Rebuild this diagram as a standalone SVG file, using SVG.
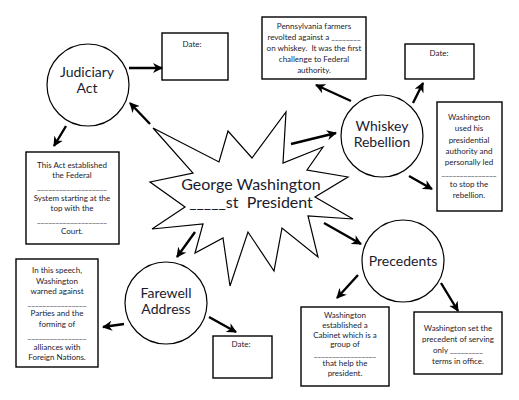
<svg xmlns="http://www.w3.org/2000/svg" width="519" height="400" viewBox="0 0 519 400">
<defs>
<style>
.bg{fill:#fff}
.circ{fill:#fff;stroke:#000;stroke-width:1.2}
.box{fill:#fff;stroke:#000;stroke-width:1.4}
.burst{fill:#fff;stroke:#000;stroke-width:1.2;stroke-linejoin:miter}
.ct{font-family:Lato,"Open Sans","Liberation Sans",sans-serif;font-size:14px;fill:#1b1b30;text-anchor:middle}
.bt{font-family:Lato,"Open Sans","Liberation Sans",sans-serif;font-size:8px;fill:#1b1b30;text-anchor:middle}
.st{font-family:Lato,"Open Sans","Liberation Sans",sans-serif;font-size:16px;fill:#1b1b30;text-anchor:middle}
.arr{stroke:#000;stroke-width:2.4;fill:none;marker-end:url(#ah)}
</style>
<marker id="ah" viewBox="0 0 10 10" refX="9" refY="5" markerWidth="4.2" markerHeight="4.2" orient="auto" markerUnits="strokeWidth">
<path d="M0,0 L10,5 L0,10 L3,5 Z" fill="#000"/>
</marker>
</defs>
<rect class="bg" x="0" y="0" width="519" height="400"/>

<g id="center">
<polygon class="burst" points="153,128 219,162 228,131 252,158 286,112 283,163 323,147 307,170 348,177 315,197 353,219 308,216 318,257 282,228 274,271 248,232 230,286 223,238 195,253 203,224 152,229 185,207 150,182 193,173"/>
<text class="st" x="251" y="190">George Washington</text>
<text class="st" x="251" y="208" xml:space="preserve">_____st  President</text>
</g>

<g id="judiciary">
<circle class="circ" cx="88" cy="85" r="41"/>
<text class="ct" x="87" y="77">Judiciary</text>
<text class="ct" x="87" y="93">Act</text>
</g>

<g id="whiskey">
<circle class="circ" cx="382" cy="136" r="41"/>
<text class="ct" x="382" y="131">Whiskey</text>
<text class="ct" x="382" y="147">Rebellion</text>
</g>

<g id="farewell">
<circle class="circ" cx="166" cy="303" r="41"/>
<text class="ct" x="166" y="298">Farewell</text>
<text class="ct" x="166" y="314">Address</text>
</g>

<g id="precedents">
<circle class="circ" cx="403" cy="261" r="41"/>
<text class="ct" x="403" y="266">Precedents</text>
</g>

<g id="date-judiciary">
<rect class="box" x="162" y="33" width="66" height="47"/>
<text class="bt" x="192" y="47">Date:</text>
</g>

<g id="pennsylvania">
<rect class="box" x="262" y="17" width="104" height="62"/>
<text class="bt" x="314" y="29">Pennsylvania farmers</text>
<text class="bt" x="314" y="40">revolted against a ________</text>
<text class="bt" x="314" y="51" xml:space="preserve">on whiskey.  It was the first</text>
<text class="bt" x="314" y="62">challenge to Federal</text>
<text class="bt" x="314" y="73">authority.</text>
</g>

<g id="date-whiskey">
<rect class="box" x="405" y="44" width="69" height="35"/>
<text class="bt" x="439" y="56">Date:</text>
</g>

<g id="washington-led">
<rect class="box" x="437" y="102" width="65" height="109"/>
<text class="bt" x="469" y="120">Washington</text>
<text class="bt" x="469" y="131">used his</text>
<text class="bt" x="469" y="143">presidential</text>
<text class="bt" x="469" y="154">authority and</text>
<text class="bt" x="469" y="165">personally led</text>
<text class="bt" x="469" y="176">_______________</text>
<text class="bt" x="469" y="187">to stop the</text>
<text class="bt" x="469" y="198">rebellion.</text>
</g>

<g id="this-act">
<rect class="box" x="26" y="152" width="93" height="92"/>
<text class="bt" x="72" y="168">This Act established</text>
<text class="bt" x="72" y="178">the Federal</text>
<text class="bt" x="72" y="190">___________________</text>
<text class="bt" x="72" y="201">System starting at the</text>
<text class="bt" x="72" y="211">top with the</text>
<text class="bt" x="72" y="223">___________________</text>
<text class="bt" x="72" y="234">Court.</text>
</g>

<g id="speech">
<rect class="box" x="16" y="259" width="82" height="108"/>
<text class="bt" x="57" y="273">In this speech,</text>
<text class="bt" x="57" y="284">Washington</text>
<text class="bt" x="57" y="294">warned against</text>
<text class="bt" x="57" y="306">________________</text>
<text class="bt" x="57" y="316">Parties and the</text>
<text class="bt" x="57" y="327">forming of</text>
<text class="bt" x="57" y="339">________________</text>
<text class="bt" x="57" y="350">alliances with</text>
<text class="bt" x="57" y="360">Foreign Nations.</text>
</g>

<g id="date-farewell">
<rect class="box" x="213" y="336" width="59" height="42"/>
<text class="bt" x="241" y="347">Date:</text>
</g>

<g id="cabinet">
<rect class="box" x="301" y="307" width="88" height="79"/>
<text class="bt" x="345" y="318">Washington</text>
<text class="bt" x="345" y="328">established a</text>
<text class="bt" x="345" y="338">Cabinet which is a</text>
<text class="bt" x="345" y="347">group of</text>
<text class="bt" x="345" y="357">_________________</text>
<text class="bt" x="345" y="366">that help the</text>
<text class="bt" x="345" y="376">president.</text>
</g>

<g id="terms">
<rect class="box" x="414" y="312" width="88" height="62"/>
<text class="bt" x="458" y="331">Washington set the</text>
<text class="bt" x="458" y="342">precedent of serving</text>
<text class="bt" x="458" y="353">only _________</text>
<text class="bt" x="458" y="364">terms in office.</text>
</g>

<g id="connectors">
<line class="arr" x1="129" y1="68" x2="162" y2="68"/>
<line class="arr" x1="150" y1="124" x2="130" y2="103"/>
<line class="arr" x1="66" y1="126" x2="54" y2="146"/>
<line class="arr" x1="291" y1="144" x2="336" y2="133"/>
<line class="arr" x1="351" y1="101" x2="316" y2="85"/>
<line class="arr" x1="413" y1="103" x2="423" y2="83"/>
<line class="arr" x1="409" y1="176" x2="432" y2="189"/>
<line class="arr" x1="195" y1="232" x2="177" y2="257"/>
<line class="arr" x1="124" y1="324" x2="103" y2="327"/>
<line class="arr" x1="209" y1="317" x2="236" y2="332"/>
<line class="arr" x1="324" y1="223" x2="361" y2="244"/>
<line class="arr" x1="358" y1="275" x2="337" y2="298"/>
<line class="arr" x1="441" y1="283" x2="458" y2="311"/>
</g>
</svg>
